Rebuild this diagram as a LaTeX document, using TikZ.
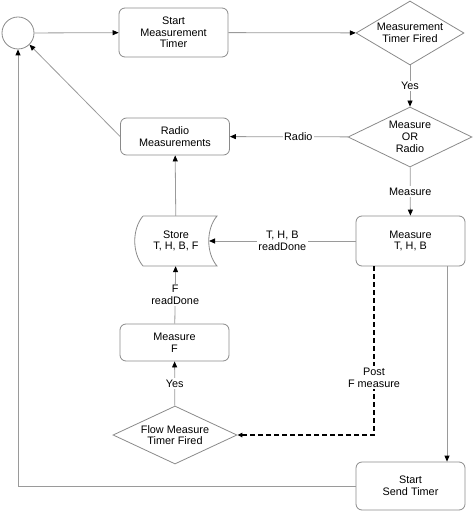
\documentclass[tikz,border=0pt]{standalone}
\usepackage{fontspec}
\setsansfont{Liberation Sans}
\usepackage{tikz}
\usetikzlibrary{calc,positioning,arrows.meta,shapes.geometric}
\definecolor{linegray}{HTML}{9A9A9A}
\definecolor{boxgray}{HTML}{8A8A8A}

\begin{document}
\begin{tikzpicture}[x=1bp, y=-1bp, font=\sffamily\fontsize{10.9}{11.8}\selectfont,
    stepbox/.style={draw=boxgray, line width=0.8bp, rounded corners=6bp, align=center, inner sep=0pt, minimum width=109bp},
    choice/.style={draw=boxgray, line width=0.8bp, shape=diamond, align=center, inner sep=0pt},
    flow/.style={draw=linegray, line width=0.8bp, -{Triangle[length=6bp,width=5bp,color=black]}},
    postflow/.style={draw=black, line width=1.8bp, dash pattern=on 5bp off 3bp, -{Triangle[length=5bp,width=4.5bp]}},
    tag/.style={fill=white, inner sep=1.5bp, align=center}]
  \useasboundingbox (0,0) rectangle (474,513);
  \node[draw=boxgray, line width=0.8bp, circle, minimum size=32bp, inner sep=0pt] (loop) at (18,33) {};
  \node[stepbox, minimum height=49bp] (startmt) at (173.5,32.5) {Start\\Measurement\\Timer};
  \node[choice, aspect=1.69, minimum width=108bp, minimum height=64bp] (mtfired) at (410,33) {Measurement\\Timer Fired};
  \node[choice, aspect=2.07, minimum width=124bp, minimum height=60bp] (mradio) at (410,137) {Measure\\OR\\Radio};
  \node[stepbox, minimum height=37bp] (radiom) at (175,136.5) {Radio\\Measurements};
  \node[stepbox, minimum height=50bp] (mthb) at (410.5,241) {Measure\\T, H, B};
  \node[align=center, minimum width=66bp, minimum height=50bp, inner sep=0pt] (store) at (176,241) {Store\\T, H, B, F};
  \draw[draw=boxgray, line width=0.8bp] (143,216) -- (217,216) .. controls (206,229) and (206,253) .. (217,266)
    -- (143,266) .. controls (132,253) and (132,229) .. (143,216);
  \node[stepbox, minimum height=37bp] (measf) at (174.5,342.5) {Measure\\F};
  \node[choice, aspect=2.1, minimum width=124bp, minimum height=58bp] (fmtfired) at (175,435) {Flow Measure\\Timer Fired};
  \node[stepbox, minimum height=48bp] (sendt) at (410.5,486) {Start\\Send Timer};
  \coordinate (storein) at (209,241);
  \coordinate (postout) at (374,266);
  \coordinate (sendout) at (447,266);

  \draw[flow] (loop) -- (startmt);
  \draw[flow] (startmt) -- (mtfired);
  \draw[flow] (mtfired) -- node[tag] {Yes} (mradio);
  \draw[flow] (mradio) -- node[tag, pos=0.42] {Radio} (radiom);
  \draw[flow] (radiom.west) -- (loop);
  \draw[flow] (mradio) -- node[tag] {Measure} (mthb);
  \draw[flow] (mthb) -- node[tag] {T, H, B\\readDone} (storein);
  \draw[flow] (store) -- (radiom);
  \draw[flow] (measf) -- node[tag] {F\\readDone} (store);
  \draw[flow] (fmtfired) -- node[tag] {Yes} (measf);
  \draw[postflow] (postout) |- node[tag, pos=0.33] {Post\\F measure} (fmtfired.east);
  \draw[flow] (sendout) -- (sendout |- sendt.north);
  \draw[flow] (sendt.west) -| (loop.south);
\end{tikzpicture}
\end{document}
